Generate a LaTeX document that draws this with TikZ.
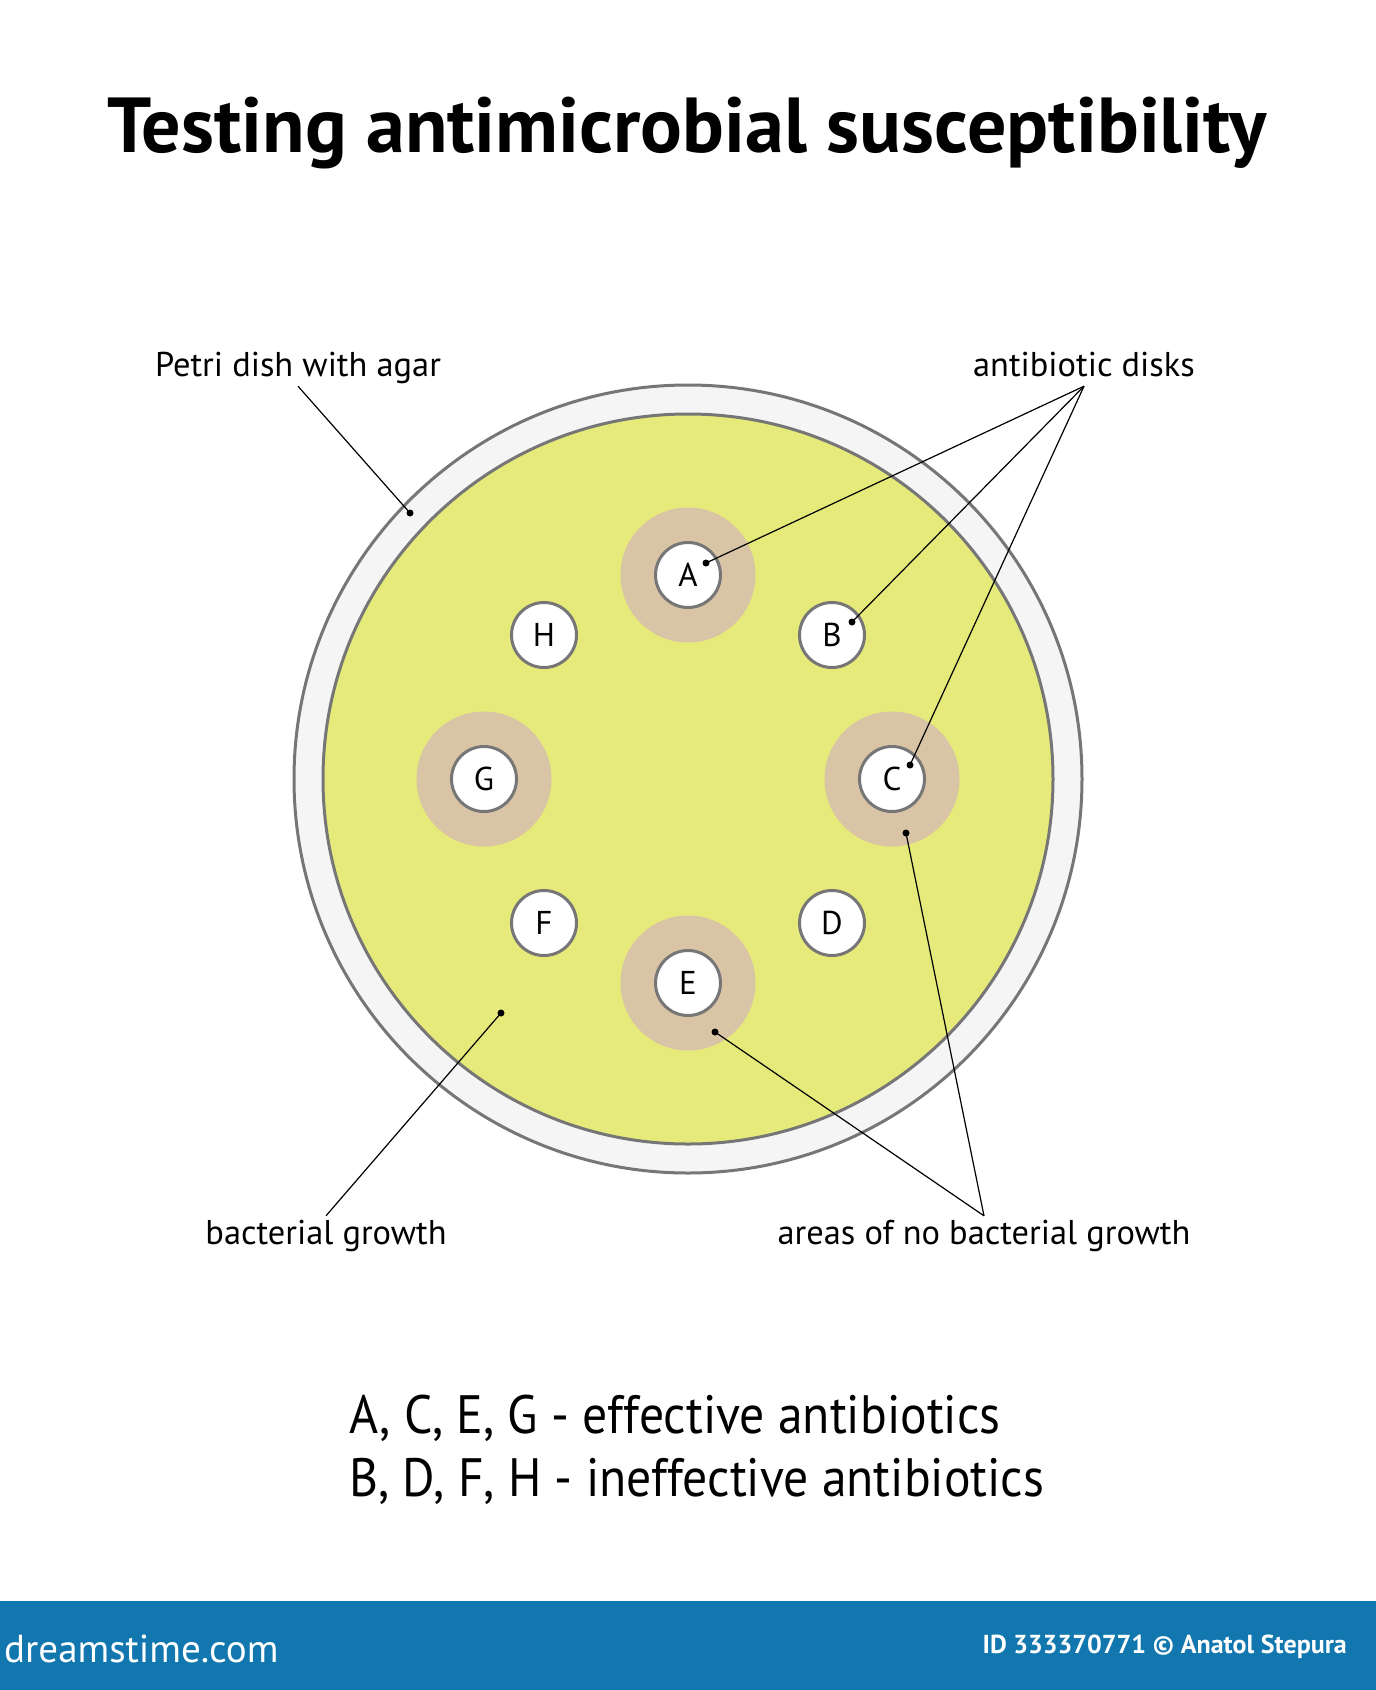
\documentclass[tikz,border=0pt]{standalone}
\usepackage{fontspec}
\setmainfont{PT Sans}
\newfontfamily\legendfont[FakeStretch=0.92]{PT Sans}
\usepackage{xcolor}
\definecolor{agar}{RGB}{229,234,122}
\definecolor{haloclear}{RGB}{218,196,166}
\definecolor{dishwhite}{RGB}{245,245,245}
\definecolor{rimgray}{RGB}{118,118,118}
\definecolor{barblue}{RGB}{17,119,174}
\tikzset{
    dish/.style = {circle, draw=rimgray, line width=3pt, fill=dishwhite, inner sep=0pt, minimum size=788pt},
    plate/.style = {circle, draw=rimgray, line width=3pt, fill=agar, inner sep=0pt, minimum size=730pt},
    halo/.style = {circle, fill=haloclear, inner sep=0pt, minimum size=135pt},
    disk/.style = {circle, draw=rimgray, line width=3pt, fill=white, inner sep=0pt, minimum size=65pt, font=\fontsize{33}{33}\selectfont},
    dot/.style = {circle, fill=black, inner sep=0pt, minimum size=7pt},
    label/.style = {inner sep=2pt, text height=26pt, text depth=8pt, anchor=base, font=\fontsize{34.4}{40}\selectfont},
    leader/.style = {line width=1.2pt, black},
    legend/.style = {inner sep=0pt, anchor=base west, font=\legendfont\fontsize{54}{64}\selectfont}
}

\begin{document}
\begin{tikzpicture}[x=1pt, y=-1pt]
    \useasboundingbox (0,0) rectangle (1376,1690);
    \fill [white] (0,0) rectangle (1376,1690);

    \node (title) [inner sep=0pt, anchor=base, font=\fontsize{78}{84}\selectfont\bfseries] at (687,152) {Testing antimicrobial susceptibility};

    % petri dish
    \node (dish) [dish] at (688,779) {};
    \node (agar) [plate] at (688,779) {};

    % clear zones round the effective disks
    \node (haloA) [halo] at (688,575) {};
    \node (haloC) [halo] at (892,779) {};
    \node (haloE) [halo] at (688,983) {};
    \node (haloG) [halo] at (484,779) {};

    \node (A) [disk] at (688,575) {A};
    \node (B) [disk] at (832,635) {B};
    \node (C) [disk] at (892,779) {C};
    \node (D) [disk] at (832,923) {D};
    \node (E) [disk] at (688,983) {E};
    \node (F) [disk] at (544,923) {F};
    \node (G) [disk] at (484,779) {G};
    \node (H) [disk] at (544,635) {H};

    % labels
    \node (petri) [label] at (298,376) {Petri dish with agar};
    \node (disks) [label] at (1084,376) {antibiotic disks};
    \node (growth) [label] at (326,1244) {bacterial growth};
    \node (nogrowth) [label] at (984,1244) {areas of no bacterial growth};

    \node (dotRim) [dot] at (410,513) {};
    \node (dotA) [dot] at (706,563) {};
    \node (dotB) [dot] at (852,622) {};
    \node (dotC) [dot] at (910,765) {};
    \node (dotGrowth) [dot] at (501,1013) {};
    \node (dotHaloC) [dot] at (906,833) {};
    \node (dotHaloE) [dot] at (715,1032) {};

    \draw [leader] (petri.south) -- (dotRim.center);
    \draw [leader] (disks.south) -- (dotA.center);
    \draw [leader] (disks.south) -- (dotB.center);
    \draw [leader] (disks.south) -- (dotC.center);
    \draw [leader] (growth.north) -- (dotGrowth.center);
    \draw [leader] (nogrowth.north) -- (dotHaloC.center);
    \draw [leader] (nogrowth.north) -- (dotHaloE.center);

    % legend
    \node (effective) [legend] at (349,1433) {A, C, E, G - effective antibiotics};
    \node (ineffective) [legend] at (349,1496) {B, D, F, H - ineffective antibiotics};

    % footer bar
    \fill [barblue] (0,1601) rectangle (1376,1690);
    \node (site) [inner sep=0pt, anchor=base west, text=white, font=\fontsize{39}{44}\selectfont] at (4,1662) {dreamstime.com};
    \node (credit) [inner sep=0pt, anchor=base east, text=white, font=\fontsize{26}{30}\selectfont\bfseries] at (1347,1653) {ID 333370771 © Anatol Stepura};
\end{tikzpicture}
\end{document}
